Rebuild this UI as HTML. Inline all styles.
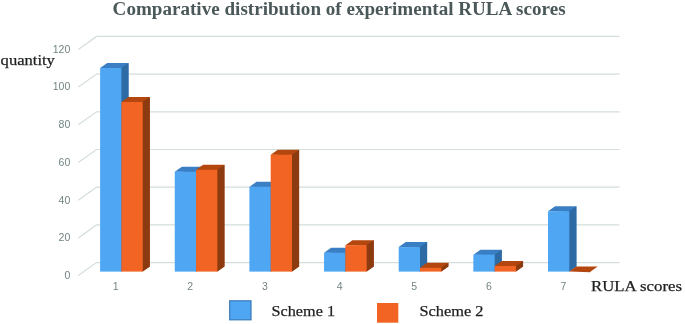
<!DOCTYPE html>
<html><head><meta charset="utf-8"><style>
html,body{margin:0;padding:0;background:#fff;}
body{width:685px;height:324px;overflow:hidden;position:relative;}
svg{position:absolute;left:0;top:0;}
.g{fill:none;stroke:#d4dedb;stroke-width:1.2;}
.yl{font-family:"Liberation Sans",sans-serif;font-size:10.5px;fill:#728483;text-anchor:end;}
.xl{font-family:"Liberation Sans",sans-serif;font-size:10.5px;fill:#728483;text-anchor:middle;}
.t{font-family:"Liberation Serif",serif;font-weight:bold;font-size:18px;fill:#4b585a;}
.lab{font-family:"Liberation Serif",serif;font-size:15.3px;fill:#1d1f1f;stroke:#1d1f1f;stroke-width:0.25px;}
</style></head><body>
<svg width="685" height="324" viewBox="0 0 685 324" xmlns="http://www.w3.org/2000/svg">
<text x="112.6" y="15" class="t" textLength="453" lengthAdjust="spacingAndGlyphs">Comparative distribution of experimental RULA scores</text>
<text x="0.6" y="65" class="lab" textLength="54.3" lengthAdjust="spacingAndGlyphs">quantity</text>
<text x="591" y="291.1" class="lab" textLength="91" lengthAdjust="spacingAndGlyphs">RULA scores</text>
<polyline points="78.30,275.60 96.50,262.60 619.50,262.60" class="g"/>
<polyline points="78.30,237.90 96.50,224.90 619.50,224.90" class="g"/>
<polyline points="78.30,200.20 96.50,187.20 619.50,187.20" class="g"/>
<polyline points="78.30,162.50 96.50,149.50 619.50,149.50" class="g"/>
<polyline points="78.30,124.80 96.50,111.80 619.50,111.80" class="g"/>
<polyline points="78.30,87.10 96.50,74.10 619.50,74.10" class="g"/>
<polyline points="78.30,49.40 96.50,36.40 619.50,36.40" class="g"/>
<text x="70.3" y="278.90" class="yl">0</text>
<text x="70.3" y="241.20" class="yl">20</text>
<text x="70.3" y="203.50" class="yl">40</text>
<text x="70.3" y="165.80" class="yl">60</text>
<text x="70.3" y="128.10" class="yl">80</text>
<text x="70.3" y="90.40" class="yl">100</text>
<text x="70.3" y="52.70" class="yl">120</text>
<polygon points="100.10,68.02 107.20,63.02 128.50,63.02 128.50,266.60 121.40,271.60 120.80,68.62" fill="#3A7FC4"/>
<polygon points="120.80,271.60 121.40,271.60 128.50,266.60 128.50,63.02 120.80,68.42" fill="#2E6AA3"/>
<rect x="100.10" y="68.02" width="21.30" height="203.58" fill="#4FA7F3"/>
<polygon points="121.40,101.95 128.50,96.95 149.80,96.95 149.80,266.60 142.70,271.60 142.10,102.55" fill="#B3470F"/>
<polygon points="142.10,271.60 142.70,271.60 149.80,266.60 149.80,96.95 142.10,102.35" fill="#8C3A10"/>
<rect x="121.40" y="101.95" width="21.30" height="169.65" fill="#F26423"/>
<polygon points="174.75,171.70 181.85,166.70 203.15,166.70 203.15,266.60 196.05,271.60 195.45,172.30" fill="#3A7FC4"/>
<polygon points="195.45,271.60 196.05,271.60 203.15,266.60 203.15,166.70 195.45,172.10" fill="#2E6AA3"/>
<rect x="174.75" y="171.70" width="21.30" height="99.91" fill="#4FA7F3"/>
<polygon points="196.05,169.81 203.15,164.81 224.45,164.81 224.45,266.60 217.35,271.60 216.75,170.41" fill="#B3470F"/>
<polygon points="216.75,271.60 217.35,271.60 224.45,266.60 224.45,164.81 216.75,170.21" fill="#8C3A10"/>
<rect x="196.05" y="169.81" width="21.30" height="101.79" fill="#F26423"/>
<polygon points="249.40,186.78 256.50,181.78 277.80,181.78 277.80,266.60 270.70,271.60 270.10,187.38" fill="#3A7FC4"/>
<polygon points="270.10,271.60 270.70,271.60 277.80,266.60 277.80,181.78 270.10,187.18" fill="#2E6AA3"/>
<rect x="249.40" y="186.78" width="21.30" height="84.83" fill="#4FA7F3"/>
<polygon points="270.70,154.73 277.80,149.73 299.10,149.73 299.10,266.60 292.00,271.60 291.40,155.33" fill="#B3470F"/>
<polygon points="291.40,271.60 292.00,271.60 299.10,266.60 299.10,149.73 291.40,155.13" fill="#8C3A10"/>
<rect x="270.70" y="154.73" width="21.30" height="116.87" fill="#F26423"/>
<polygon points="324.05,252.75 331.15,247.75 352.45,247.75 352.45,266.60 345.35,271.60 344.75,253.35" fill="#3A7FC4"/>
<polygon points="344.75,271.60 345.35,271.60 352.45,266.60 352.45,247.75 344.75,253.15" fill="#2E6AA3"/>
<rect x="324.05" y="252.75" width="21.30" height="18.85" fill="#4FA7F3"/>
<polygon points="345.35,245.21 352.45,240.21 373.75,240.21 373.75,266.60 366.65,271.60 366.05,245.81" fill="#B3470F"/>
<polygon points="366.05,271.60 366.65,271.60 373.75,266.60 373.75,240.21 366.05,245.61" fill="#8C3A10"/>
<rect x="345.35" y="245.21" width="21.30" height="26.39" fill="#F26423"/>
<polygon points="398.70,247.10 405.80,242.10 427.10,242.10 427.10,266.60 420.00,271.60 419.40,247.70" fill="#3A7FC4"/>
<polygon points="419.40,271.60 420.00,271.60 427.10,266.60 427.10,242.10 419.40,247.50" fill="#2E6AA3"/>
<rect x="398.70" y="247.10" width="21.30" height="24.50" fill="#4FA7F3"/>
<polygon points="420.00,267.83 427.10,262.83 448.40,262.83 448.40,266.60 441.30,271.60 440.70,268.43" fill="#B3470F"/>
<polygon points="440.70,271.60 441.30,271.60 448.40,266.60 448.40,262.83 440.70,268.23" fill="#8C3A10"/>
<rect x="420.00" y="267.83" width="21.30" height="3.77" fill="#F26423"/>
<polygon points="473.35,254.64 480.45,249.64 501.75,249.64 501.75,266.60 494.65,271.60 494.05,255.24" fill="#3A7FC4"/>
<polygon points="494.05,271.60 494.65,271.60 501.75,266.60 501.75,249.64 494.05,255.04" fill="#2E6AA3"/>
<rect x="473.35" y="254.64" width="21.30" height="16.96" fill="#4FA7F3"/>
<polygon points="494.65,265.95 501.75,260.95 523.05,260.95 523.05,266.60 515.95,271.60 515.35,266.55" fill="#B3470F"/>
<polygon points="515.35,271.60 515.95,271.60 523.05,266.60 523.05,260.95 515.35,266.35" fill="#8C3A10"/>
<rect x="494.65" y="265.95" width="21.30" height="5.66" fill="#F26423"/>
<polygon points="548.00,211.28 555.10,206.28 576.40,206.28 576.40,266.60 569.30,271.60 568.70,211.88" fill="#3A7FC4"/>
<polygon points="568.70,271.60 569.30,271.60 576.40,266.60 576.40,206.28 568.70,211.68" fill="#2E6AA3"/>
<rect x="548.00" y="211.28" width="21.30" height="60.32" fill="#4FA7F3"/>
<polygon points="569.30,271.60 576.40,266.60 597.70,266.60 597.70,266.60 590.60,271.60 590.00,272.20" fill="#B3470F"/>
<polygon points="590.00,271.60 590.60,271.60 597.70,266.60 597.70,266.60 590.00,272.00" fill="#8C3A10"/>
<text x="115.60" y="290" class="xl">1</text>
<text x="190.25" y="290" class="xl">2</text>
<text x="264.90" y="290" class="xl">3</text>
<text x="339.55" y="290" class="xl">4</text>
<text x="414.20" y="290" class="xl">5</text>
<text x="488.85" y="290" class="xl">6</text>
<text x="563.50" y="290" class="xl">7</text>
<rect x="229.7" y="300.8" width="21.3" height="19" fill="#4FA7F3" stroke="#3a78b8" stroke-width="1.2"/>
<text x="271.5" y="315.7" class="lab" textLength="63.5" lengthAdjust="spacingAndGlyphs">Scheme 1</text>
<rect x="377" y="303" width="21.3" height="19.7" fill="#F26423"/>
<text x="419.5" y="315.7" class="lab" textLength="64" lengthAdjust="spacingAndGlyphs">Scheme 2</text>
</svg>
</body></html>
